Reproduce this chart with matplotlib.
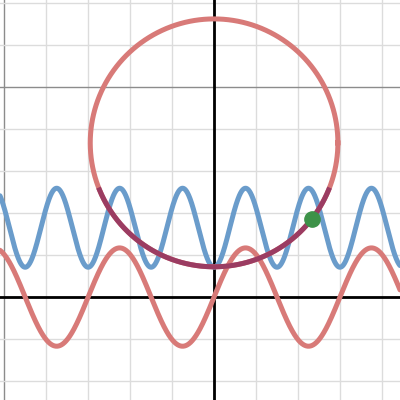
import numpy as np
import matplotlib as mpl
mpl.use('Agg')
import matplotlib.pyplot as plt

# graph parameters (units = grid squares)
red_wave = [1.17, 3.0]             # amplitude, period
blue_wave = [1.65, 0.94, 1.5]      # centre, amplitude, period
circle = [0.0, 3.67, 2.95]         # cx, cy, r
arc_top = 2.55                     # purple arc: part of circle below this y
point = [2.33, 1.86]
xlim = [-5.1, 4.43]
ylim = [-2.45, 7.07]

fig = plt.figure(figsize=(4, 4), dpi=100)
ax = fig.add_axes([0, 0, 1, 1])
ax.set_xlim(xlim)
ax.set_ylim(ylim)
ax.axis('off')

for v in range(-6, 6):
  c = '#8c8c8c' if v % 5 == 0 else '#dcdcdc'
  ax.axvline(v, color=c, lw=1.0, zorder=0)
for v in range(-3, 8):
  c = '#8c8c8c' if v % 5 == 0 else '#dcdcdc'
  ax.axhline(v, color=c, lw=1.0, zorder=0)
ax.axhline(0, color='black', lw=2, zorder=1)
ax.axvline(0, color='black', lw=2, zorder=1)

x = np.linspace(xlim[0], xlim[1], 2000)
ax.plot(x, red_wave[0] * np.sin(2 * np.pi * x / red_wave[1]),
        color='#d87a78', lw=3.6, solid_capstyle='round', zorder=2)
ax.plot(x, blue_wave[0] - blue_wave[1] * np.cos(2 * np.pi * x / blue_wave[2]),
        color='#6a9ccb', lw=3.6, solid_capstyle='round', zorder=3)

t = np.linspace(0, 2 * np.pi, 800)
cx, cy, r = circle
ax.plot(cx + r * np.cos(t), cy + r * np.sin(t), color='#d87a78', lw=3.6, zorder=4)
a = np.arcsin((arc_top - cy) / r)
ta = np.linspace(np.pi - a, 2 * np.pi + a, 400)
ax.plot(cx + r * np.cos(ta), cy + r * np.sin(ta), color='#9b3c62', lw=3.6, zorder=5)

ax.plot(*point, 'o', color='#3d9248', ms=11, zorder=6)

plt.savefig('out.png')
plt.close(fig)
